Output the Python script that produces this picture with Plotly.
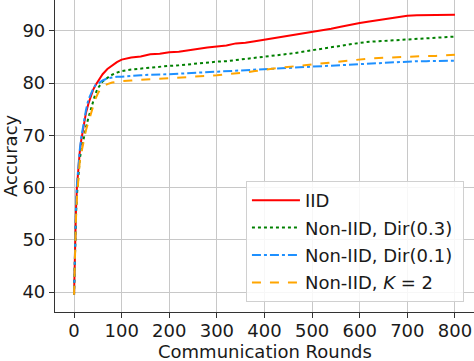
import plotly.graph_objects as go

rounds = [0, 2, 4, 6, 8, 10, 12, 15, 18, 21, 25, 30, 35, 40, 45, 50, 55, 60, 70, 80, 90, 100,
          120, 140, 160, 180, 200, 220, 240, 260, 280, 300, 320, 340, 360, 380, 400,
          420, 440, 460, 480, 500, 520, 540, 560, 580, 600, 620, 640, 660, 680, 700,
          720, 740, 760, 780, 800]

acc_iid = [39.5, 49.0, 55.5, 60.0, 63.0, 65.0, 66.8, 69.0, 70.8, 72.5, 74.3, 76.0, 77.5, 78.7, 79.6, 80.3, 81.0, 81.7, 82.7, 83.4, 84.0, 84.5,
           84.9, 85.1, 85.5, 85.6, 85.9, 86.0, 86.3, 86.5, 86.8, 87.0, 87.2, 87.6, 87.7, 88.0, 88.3,
           88.5, 88.9, 89.1, 89.4, 89.7, 90.0, 90.4, 90.8, 91.2, 91.5, 91.8, 92.1, 92.4, 92.7, 92.9,
           93.0, 93.0, 93.1, 93.1, 93.1]

acc_dir03 = [39.5, 48.5, 54.5, 58.5, 61.5, 64.0, 65.5, 67.0, 68.5, 70.0, 71.5, 73.3, 75.0, 76.8, 78.0, 79.0, 79.7, 80.3, 81.0, 81.6, 82.0, 82.3,
             82.6, 82.8, 83.0, 83.1, 83.3, 83.4, 83.6, 83.8, 83.9, 84.1, 84.2, 84.4, 84.6, 84.8, 85.0,
             85.2, 85.5, 85.7, 86.0, 86.3, 86.6, 86.9, 87.2, 87.5, 87.7, 87.9, 88.0, 88.1, 88.3, 88.4,
             88.5, 88.6, 88.7, 88.8, 88.9]

acc_dir01 = [39.5, 49.5, 56.0, 60.5, 63.5, 65.5, 67.2, 69.5, 71.3, 73.0, 74.8, 76.8, 78.0, 78.9, 79.6, 79.9, 80.2, 80.5, 80.9, 81.1, 81.2, 81.2,
             81.4, 81.5, 81.6, 81.6, 81.7, 81.8, 81.9, 81.9, 82.0, 82.1, 82.2, 82.3, 82.4, 82.5, 82.6,
             82.7, 82.8, 82.9, 83.0, 83.2, 83.3, 83.4, 83.5, 83.6, 83.7, 83.8, 83.9, 84.0, 84.1, 84.1,
             84.2, 84.2, 84.2, 84.3, 84.3]

acc_k2 = [39.5, 48.0, 54.0, 58.0, 61.0, 63.5, 65.0, 66.5, 68.0, 69.5, 71.0, 72.5, 74.0, 75.8, 77.0, 78.0, 78.8, 79.3, 79.8, 80.1, 80.3, 80.4,
          80.5, 80.6, 80.7, 80.9, 81.0, 81.1, 81.2, 81.3, 81.4, 81.5, 81.7, 81.8, 82.0, 82.3, 82.6,
          82.8, 83.0, 83.2, 83.4, 83.6, 83.8, 84.0, 84.2, 84.4, 84.6, 84.7, 84.8, 84.9, 85.0, 85.0,
          85.1, 85.2, 85.2, 85.3, 85.4]

series_names = ["IID", "Non-IID, Dir(0.3)", "Non-IID, Dir(0.1)", "Non-IID, <i>K</i> = 2"]
x_ticks = [0, 100, 200, 300, 400, 500, 600, 700, 800]
y_ticks = [40, 50, 60, 70, 80, 90]

font = "DejaVu Sans, sans-serif"
fig = go.Figure()
styles = [("#ff0000", "solid", 2), ("#008000", "dot", 2), ("#1e90ff", "dashdot", 2), ("#ffa500", "dash", 2)]
for i, (name, ys, (c, d, w)) in enumerate(zip(series_names, [acc_iid, acc_dir03, acc_dir01, acc_k2], styles)):
    fig.add_trace(go.Scatter(x=rounds, y=ys, mode="lines", name=name + "\u00a0", legendgroup=f"g{i}",
                             line=dict(color=c, dash=d, width=w)))

axis_common = dict(showgrid=True, gridcolor="#c8c8c8", gridwidth=1, showline=True,
                   linecolor="#333333", linewidth=1.2, ticks="outside", ticklen=5,
                   tickcolor="#333333", zeroline=False, tickfont=dict(size=18, color="#1a1a1a"),
                   mirror=False, automargin=False)
fig.update_xaxes(range=[-40, 840], tickvals=x_ticks, ticklabelstandoff=-3, **axis_common)
fig.update_yaxes(range=[36.2, 95.9], tickvals=y_ticks, **axis_common)
fig.add_annotation(text="Communication Rounds", xref="paper", yref="paper", x=0.5, y=0,
                   xanchor="center", yanchor="top", yshift=-27, showarrow=False,
                   font=dict(size=18, color="#1a1a1a"))
fig.add_annotation(text="Accuracy", xref="paper", yref="paper", x=0, y=0.5, textangle=-90,
                   xanchor="center", yanchor="middle", xshift=-45, showarrow=False,
                   font=dict(size=18, color="#1a1a1a"))
fig.update_layout(
    width=474, height=361,
    margin=dict(l=55, r=0, t=0, b=49),
    plot_bgcolor="white", paper_bgcolor="white",
    font=dict(family=font, size=18, color="#1a1a1a"),
    legend=dict(x=0.976, y=0.032, xanchor="right", yanchor="bottom",
                bgcolor="rgba(255,255,255,0.85)", bordercolor="#d0d0d0", borderwidth=1,
                font=dict(size=18), traceorder="grouped", tracegroupgap=1, itemwidth=48),
    showlegend=True,
)
fig.write_html("out.html", config={"displayModeBar": False},
               post_script="document.body.style.margin='0';document.body.style.padding='0';")
